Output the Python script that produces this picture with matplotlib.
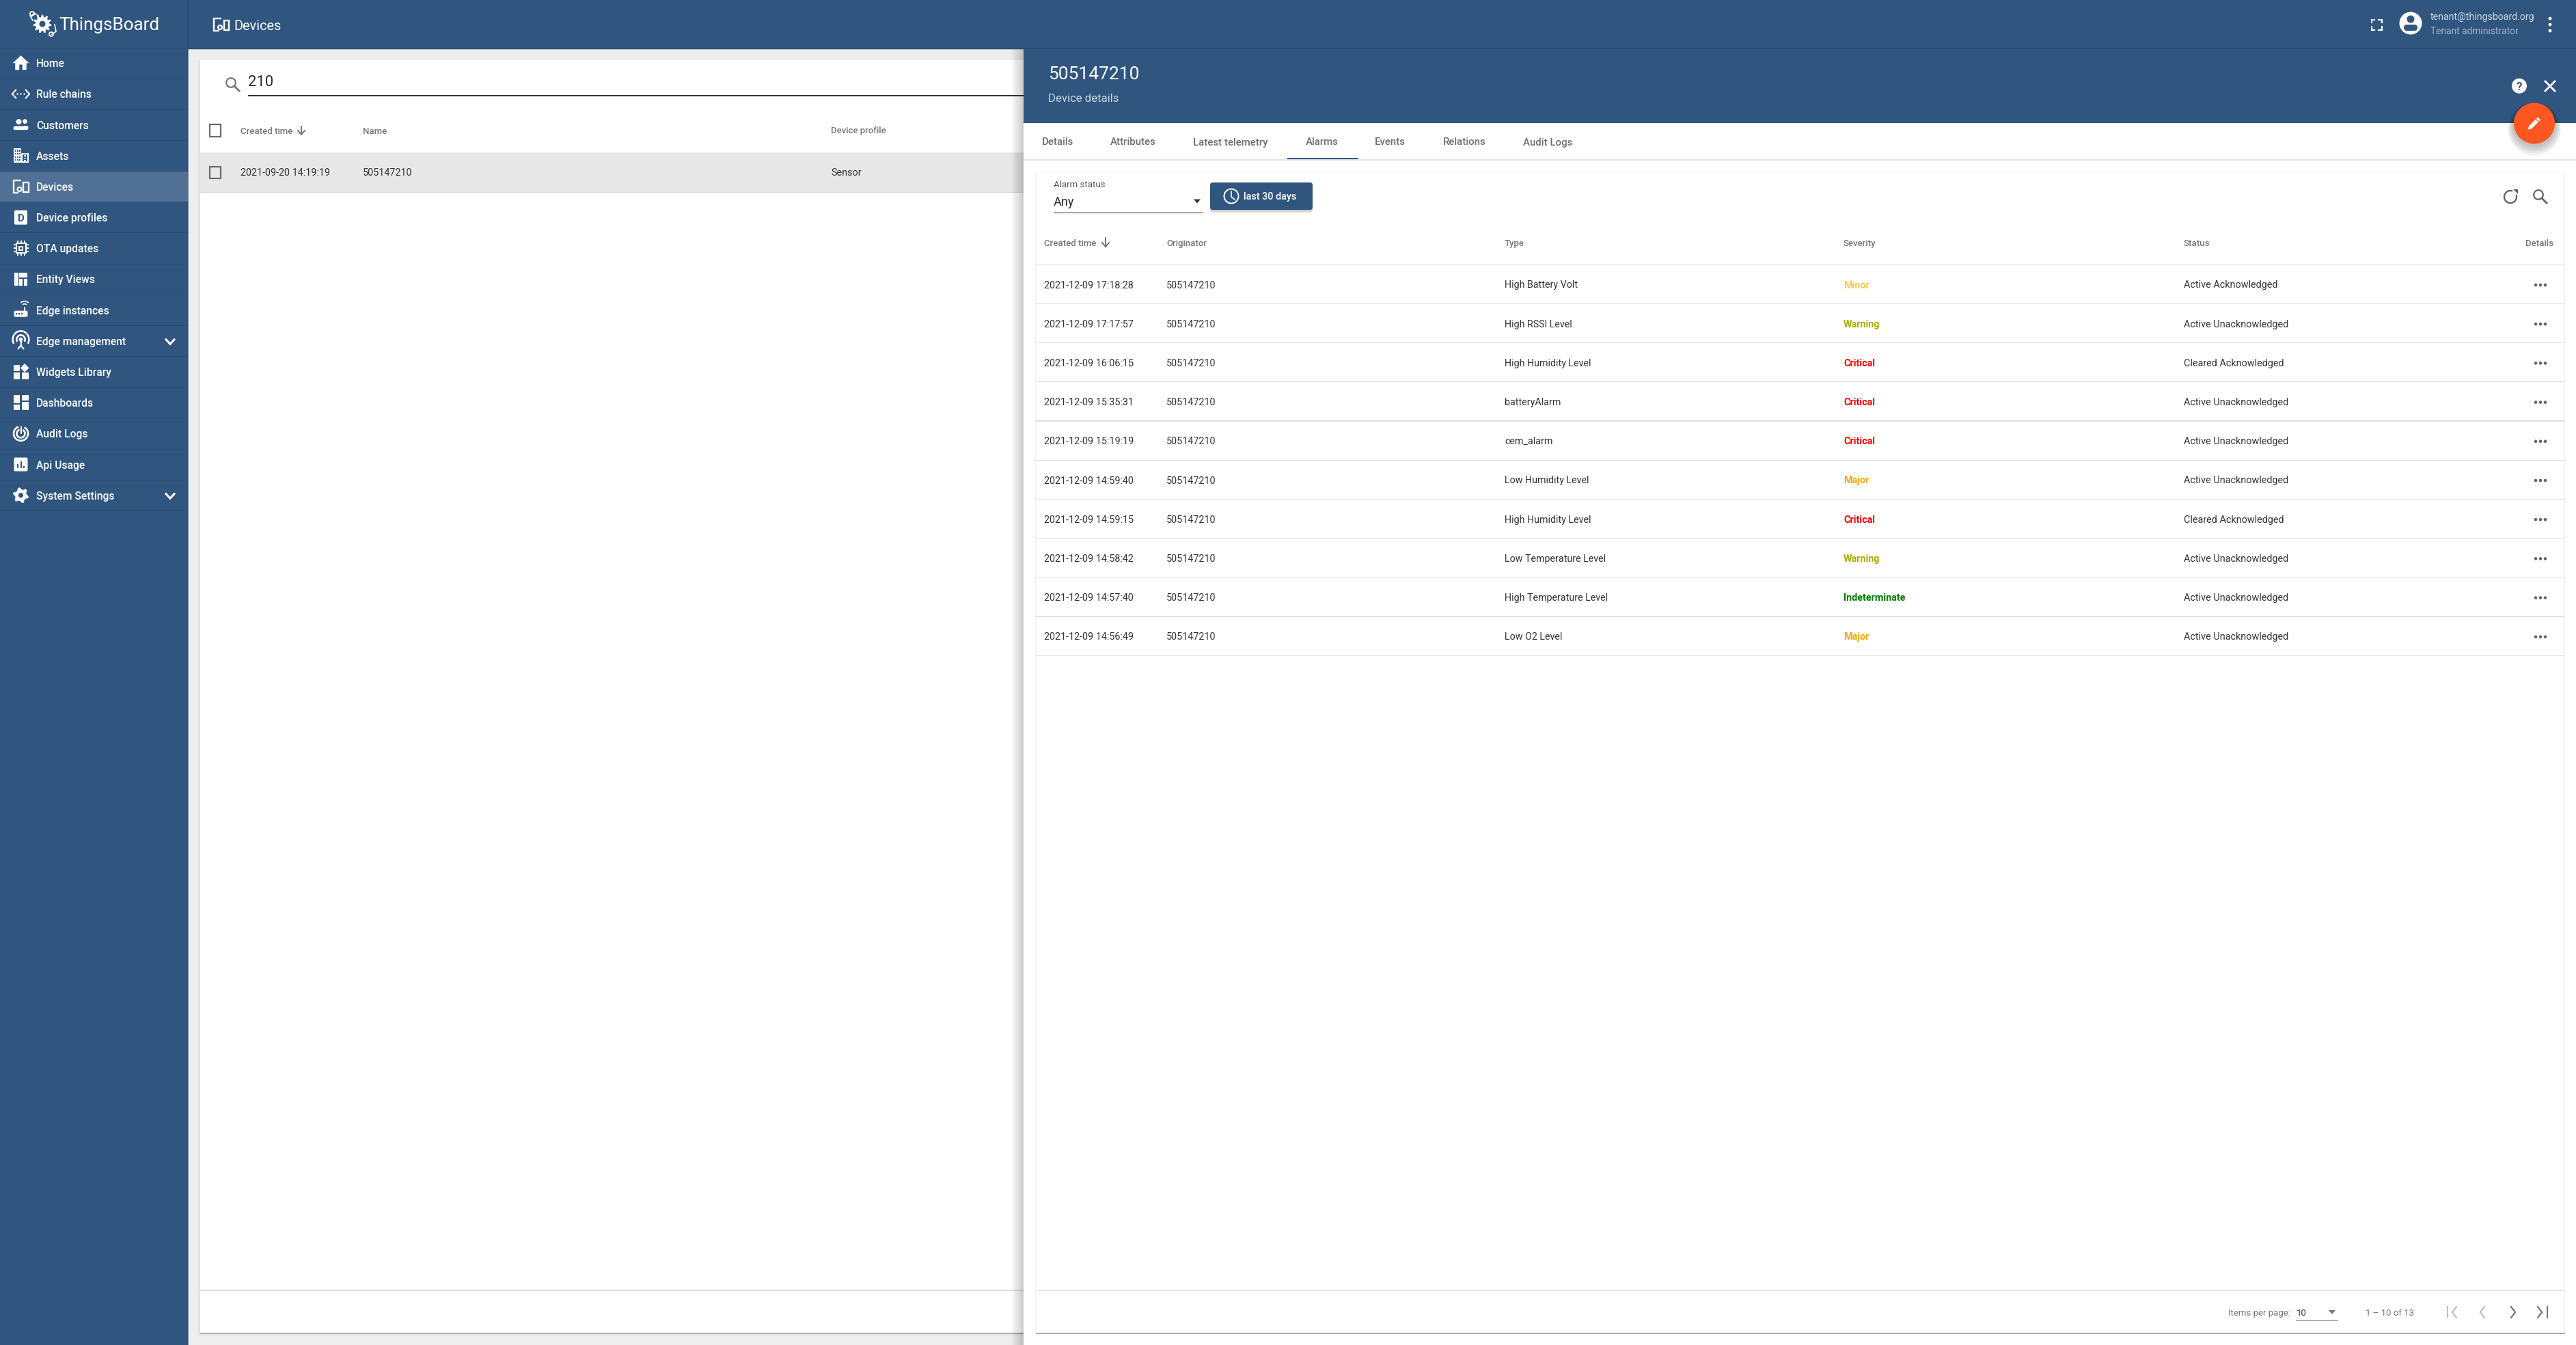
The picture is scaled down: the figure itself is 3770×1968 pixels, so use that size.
"""ThingsBoard device details screen, redrawn with matplotlib."""

import numpy as np
import matplotlib
matplotlib.use("Agg")
import matplotlib.pyplot as plt
from matplotlib.patches import Rectangle, Circle, Polygon, FancyBboxPatch, Arc

plt.rcParams['font.family'] = ['Roboto', 'DejaVu Sans']

menu_items = ["Home", "Rule chains", "Customers", "Assets", "Devices", "Device profiles",
              "OTA updates", "Entity Views", "Edge instances", "Edge management",
              "Widgets Library", "Dashboards", "Audit Logs", "Api Usage", "System Settings"]
menu_expandable = ["Edge management", "System Settings"]
menu_selected = "Devices"

tab_labels = ["Details", "Attributes", "Latest telemetry", "Alarms", "Events", "Relations", "Audit Logs"]
tab_x = [1525, 1625, 1746, 1911, 2012, 2112, 2229]

alarm_times = ["2021-12-09 17:18:28", "2021-12-09 17:17:57", "2021-12-09 16:06:15",
               "2021-12-09 15:35:31", "2021-12-09 15:19:19", "2021-12-09 14:59:40",
               "2021-12-09 14:59:15", "2021-12-09 14:58:42", "2021-12-09 14:57:40",
               "2021-12-09 14:56:49"]
alarm_types = ["High Battery Volt", "High RSSI Level", "High Humidity Level", "batteryAlarm",
               "cem_alarm", "Low Humidity Level", "High Humidity Level", "Low Temperature Level",
               "High Temperature Level", "Low O2 Level"]
alarm_severity = ["Minor", "Warning", "Critical", "Critical", "Critical", "Major", "Critical",
                  "Warning", "Indeterminate", "Major"]
alarm_status = ["Active Acknowledged", "Active Unacknowledged", "Cleared Acknowledged",
                "Active Unacknowledged", "Active Unacknowledged", "Active Unacknowledged",
                "Cleared Acknowledged", "Active Unacknowledged", "Active Unacknowledged",
                "Active Unacknowledged"]
originator = "505147210"
severity_colors = {"Minor": "#ffca3d", "Warning": "#abab00", "Critical": "#ff0000",
                   "Major": "#ffa500", "Indeterminate": "#008000"}

BLUE = "#305680"
DARK = "#2a4c72"
LINE = "#e0e0e0"
GREY = "#757575"
TEXT = "#333333"

fig = plt.figure(figsize=(37.7, 19.68), dpi=100)
ax = fig.add_axes([0, 0, 1, 1])
ax.set_xlim(0, 3770)
ax.set_ylim(1968, 0)
ax.axis("off")


def rect(x0, y0, x1, y1, color, alpha=1.0, z=1):
    ax.add_patch(Rectangle((x0, y0), x1 - x0, y1 - y0, fc=color, ec="none", alpha=alpha, zorder=z))


def txt(x, y, s, px, color=TEXT, weight=400, ha="left", alpha=1.0, z=10):
    ax.text(x, y, s, fontsize=px * 0.72, color=color, fontweight=weight, ha=ha,
            va="center_baseline", alpha=alpha, zorder=z)


def poly(cx, cy, pts, color, s=1.1, z=9):
    pts = (np.array(pts, dtype=float) - 12) * s + [cx, cy]
    ax.add_patch(Polygon(pts, closed=True, fc=color, ec="none", zorder=z))


def stroke(cx, cy, pts, color, lw=2.2, s=1.1, z=9):
    pts = (np.array(pts, dtype=float) - 12) * s + [cx, cy]
    ax.plot(pts[:, 0], pts[:, 1], color=color, lw=lw * 0.72, solid_capstyle="butt",
            solid_joinstyle="miter", zorder=z)


def circ(cx, cy, r, color, z=9, **kw):
    ax.add_patch(Circle((cx, cy), r, fc=color, ec="none", zorder=z, **kw))


def ring(cx, cy, r, color, lw=2.2, z=9):
    ax.add_patch(Circle((cx, cy), r, fc="none", ec=color, lw=lw * 0.72, zorder=z))


def squares(cx, cy, boxes, color, s=1.1, z=9):
    for x0, y0, x1, y1 in boxes:
        rect(cx + (x0 - 12) * s, cy + (y0 - 12) * s, cx + (x1 - 12) * s, cy + (y1 - 12) * s, color, z=z)


def gear(cx, cy, r_out, r_in, hole, color, back, teeth=8, z=9):
    ang = np.linspace(0, 2 * np.pi, teeth * 4, endpoint=False) + np.pi / teeth / 4
    rad = np.where(np.arange(teeth * 4) % 4 < 2, r_out, r_in)
    ax.add_patch(Polygon(np.c_[cx + rad * np.cos(ang), cy + rad * np.sin(ang)], fc=color, ec="none", zorder=z))
    circ(cx, cy, hole, back, z=z + 0.1)


def devices_icon(cx, cy, color, back):
    stroke(cx, cy, [(12, 4), (2, 4), (2, 20), (9, 20)], color, lw=2.4)
    ax.add_patch(Rectangle((cx + 3.5, cy - 6), 7.5, 14, fc="none", ec=color, lw=1.7, zorder=9))
    ring(cx - 2, cy + 4, 3, color, lw=2.2)


def home_icon(cx, cy, c, b):
    poly(cx, cy, [(10, 21), (10, 14), (14, 14), (14, 21), (19.5, 21), (19.5, 12), (23, 12), (12, 2), (1, 12), (4.5, 12), (4.5, 21)], c)


def rule_icon(cx, cy, c, b):
    stroke(cx, cy, [(6, 6), (0.5, 12), (6, 18)], c, lw=2)
    stroke(cx, cy, [(18, 6), (23.5, 12), (18, 18)], c, lw=2)
    for dx in (-5, 0, 5):
        circ(cx + dx, cy, 1.2, c)


def customers_icon(cx, cy, c, b):
    circ(cx - 3, cy - 4.5, 4.0, c)
    circ(cx + 6, cy - 5, 3.4, c)
    ax.add_patch(FancyBboxPatch((cx - 11, cy + 2), 15, 5.5, boxstyle="round,pad=0,rounding_size=2.5", fc=c, ec="none", zorder=9))
    ax.add_patch(FancyBboxPatch((cx + 2, cy + 1.5), 9, 6, boxstyle="round,pad=0,rounding_size=2.5", fc=c, ec="none", zorder=9))


def assets_icon(cx, cy, c, b):
    rect(cx - 11, cy - 10.5, cx + 0.5, cy + 10, c, z=9)
    rect(cx + 0.5, cy - 4, cx + 11, cy + 10, c, z=9)
    rect(cx + 2.5, cy - 2, cx + 9, cy + 8, b, z=9.1)
    for i in range(3):
        for j in range(4):
            rect(cx - 9 + i * 3.3, cy - 8.5 + j * 4.6, cx - 7.2 + i * 3.3, cy - 6.2 + j * 4.6, b, z=9.2)
    for j in range(3):
        rect(cx + 4, cy - 0.5 + j * 3.3, cx + 7, cy + 1.3 + j * 3.3, c, z=9.2)


def profiles_icon(cx, cy, c, b):
    ax.add_patch(FancyBboxPatch((cx - 9.5, cy - 10.5), 19, 21, boxstyle="round,pad=0,rounding_size=2", fc=c, ec="none", zorder=9))
    txt(cx, cy + 0.5, "D", 15, color=b, weight=700, ha="center")


def ota_icon(cx, cy, c, b):
    rect(cx - 8, cy - 8, cx + 8, cy + 8, c, z=9)
    rect(cx - 6, cy - 6, cx + 6, cy + 6, b, z=9.1)
    rect(cx - 3.5, cy - 3.5, cx + 3.5, cy + 3.5, c, z=9.2)
    rect(cx - 1.5, cy - 1.5, cx + 1.5, cy + 1.5, b, z=9.3)
    for d in (-5, 0, 5):
        rect(cx + d - 1, cy - 11, cx + d + 1, cy + 11, c, z=8.9)
        rect(cx - 11, cy + d - 1, cx + 11, cy + d + 1, c, z=8.9)


def views_icon(cx, cy, c, b):
    squares(cx, cy, [(3, 3, 8.5, 21), (10, 3, 21, 10), (10, 12, 14.5, 21), (16, 12, 21, 21)], c)


def edge_icon(cx, cy, c, b):
    ax.add_patch(FancyBboxPatch((cx - 10, cy + 1), 20, 9, boxstyle="round,pad=0,rounding_size=2", fc=c, ec="none", zorder=9))
    rect(cx + 4.5, cy - 5, cx + 6.5, cy + 2, c, z=9)
    for dx in (-6.5, -2.5, 1.5):
        circ(cx + dx, cy + 5.5, 1.2, b, z=9.2)
    for r in (4, 8):
        ax.add_patch(Arc((cx + 5.5, cy - 5), 2 * r, 2 * r, angle=0, theta1=225, theta2=315, ec=c, lw=1.2, zorder=9))


def manage_icon(cx, cy, c, b):
    for r in (6.5, 12.5):
        ax.add_patch(Arc((cx, cy - 2), 2 * r * 0.95, 2 * r, theta1=150, theta2=390, ec=c, lw=1.8, zorder=9))
    circ(cx, cy - 2, 3, c)
    stroke(cx, cy, [(12, 10), (12, 18)], c, lw=2.2)
    stroke(cx, cy, [(8, 23), (12, 18), (16, 23)], c, lw=2.2)


def widgets_icon(cx, cy, c, b):
    squares(cx, cy, [(2, 3, 11, 11), (2, 13, 11, 22), (13, 13, 22, 22)], c)
    poly(cx, cy, [(17, 1), (23, 7), (17, 12.5), (11.5, 7)], c)


def dash_icon(cx, cy, c, b):
    squares(cx, cy, [(2, 2, 11, 13), (2, 15, 11, 22), (13, 2, 22, 9), (13, 11, 22, 22)], c)


def audit_icon(cx, cy, c, b):
    ax.add_patch(Arc((cx, cy), 21, 21, theta1=-60, theta2=250, ec=c, lw=1.9, zorder=9))
    ax.add_patch(Arc((cx, cy), 12, 12, theta1=-60, theta2=250, ec=c, lw=1.9, zorder=9))
    stroke(cx, cy, [(12, 3), (12, 13)], c, lw=2.2)


def api_icon(cx, cy, c, b):
    ax.add_patch(FancyBboxPatch((cx - 10, cy - 10), 20, 20, boxstyle="round,pad=0,rounding_size=2", fc=c, ec="none", zorder=9))
    rect(cx - 5.5, cy - 1, cx - 3.5, cy + 5.5, b, z=9.2)
    rect(cx - 1, cy - 5, cx + 1, cy + 5.5, b, z=9.2)
    rect(cx + 3.5, cy + 2, cx + 5.5, cy + 5.5, b, z=9.2)


def settings_icon(cx, cy, c, b):
    gear(cx, cy, 11.5, 8.5, 3.6, c, b, teeth=6)


menu_icons = [home_icon, rule_icon, customers_icon, assets_icon, devices_icon, profiles_icon,
              ota_icon, views_icon, edge_icon, manage_icon, widgets_icon, dash_icon, audit_icon,
              api_icon, settings_icon]


def shadow(x0, y0, x1, y1, n=6, step=2.0, alpha=0.018, z=1.5):
    for i in range(n):
        d = step * (i + 1)
        rect(x0 - d, y0, x1 + d, y1 + d, "#000000", alpha=alpha, z=z)


def left_chevron(cx, cy, c, sign=1, h=8, w=6, lw=2.2):
    ax.plot([cx + sign * w / 2, cx - sign * w / 2, cx + sign * w / 2], [cy - h, cy, cy + h],
            color=c, lw=lw * 0.72, solid_joinstyle="miter", zorder=9)


def magnifier(cx, cy, c, r=6.8, lw=2.2):
    ring(cx - 2, cy - 2, r, c, lw=lw)
    ax.plot([cx + 3, cx + 10], [cy + 3, cy + 10], color=c, lw=(lw + 0.6) * 0.72, zorder=9)


# page backgrounds
rect(0, 0, 3770, 1968, "#eeeeee", z=0)
shadow(293, 88, 1600, 1950, n=3, step=1.5, z=0.5)
rect(293, 88, 1600, 1950, "#ffffff", z=1)

# left table behind the drawer
rect(275, 70, 3770, 73, "#cccccc", z=1.2)
rect(293, 223, 1500, 281, "#e8e8e8", z=2)
rect(293, 280.5, 1500, 282, "#d8d8d8", z=2.1)
rect(293, 1887, 1500, 1889, LINE, z=2)
rect(293, 1950, 1500, 1952, "#b0b0b0", z=2)
for y0, y1 in ((182, 199.5), (244, 260.5)):
    ax.add_patch(Rectangle((307, y0), 15.5, y1 - y0, fc="none", ec="#6b6b6b", lw=1.6, zorder=3))
txt(352, 190.5, "Created time", 13.2, GREY, 500)
ax.plot([441, 441], [185, 196], color=GREY, lw=1.4, zorder=3)
ax.plot([436, 441, 446], [191, 197, 191], color=GREY, lw=1.4, zorder=3)
txt(530.5, 190.5, "Name", 13.2, GREY, 500)
txt(1216, 190.5, "Device profile", 13.2, GREY, 500)
txt(352, 251.5, "2021-09-20 14:19:19", 14.4)
txt(530.5, 251.5, originator, 14.4)
txt(1216, 251.5, "Sensor", 14.4)
magnifier(340, 123, GREY)
txt(363, 118, "210", 22, "#2b2b2b")
rect(363, 139, 1500, 140.5, "#333333", z=2)

# top bar
rect(0, 0, 3770, 70, BLUE, z=4)
rect(0, 70, 3770, 71.5, DARK, z=4)

# sidebar
rect(0, 0, 275, 1968, BLUE, z=5)
rect(274, 0, 275.5, 1968, DARK, alpha=0.6, z=5.1)
for i, name in enumerate(menu_items):
    yc = 92.3 + i * 45.17
    if name == menu_selected:
        rect(0, yc - 22.5, 275, yc + 22.5, "#507195", z=5.2)
    rect(0, yc + 22.2, 275, yc + 23.2, DARK, z=5.3)
    back = "#507195" if name == menu_selected else BLUE
    menu_icons[i](30.5, yc, "#ffffff", back)
    txt(53, yc, name, 15.6, "#ffffff", 500)
    if name in menu_expandable:
        ax.plot([243, 249, 255], [yc - 2, yc + 4.5, yc - 2], color="#ffffff", lw=2.2, solid_joinstyle="miter", zorder=9)
rect(0, 69.5, 275, 70.5, DARK, z=5.3)
rect(274.5, 0, 275.5, 70, DARK, z=5.3)

# logo
gear(62, 35, 13.5, 10, 4.5, "#ffffff", BLUE, teeth=11)
ax.plot([46, 50, 56], [24, 19, 23], color="#ffffff", lw=1.2, zorder=9)
ax.plot([80, 82, 76], [36, 46, 50], color="#ffffff", lw=1.2, zorder=9)
ax.plot([44, 48], [23, 30], color="#ffffff", lw=1.2, zorder=9)
ring(47, 20, 3, "#ffffff", lw=1.8)
ring(75, 50, 3, "#ffffff", lw=1.8)
txt(86.5, 34.5, "ThingsBoard", 26, "#ffffff", z=11)

# page title
devices_icon(324, 36, "#ffffff", BLUE)
txt(342, 36, "Devices", 20, "#ffffff", z=11)

# top bar right
for sx, sy in ((-1, -1), (1, -1), (-1, 1), (1, 1)):
    ax.plot([3478 + sx * 7.5, 3478 + sx * 7.5, 3478 + sx * 3],
            [36 + sy * 3, 36 + sy * 7.5, 36 + sy * 7.5], color="#ffffff", lw=1.5, solid_joinstyle="miter", zorder=9)
circ(3528, 34, 16.5, "#ffffff")
circ(3528, 28, 5.5, BLUE, z=9.2)
ax.add_patch(FancyBboxPatch((3518, 36), 20, 9, boxstyle="round,pad=0,rounding_size=4.5", fc=BLUE, ec="none", zorder=9.2))
txt(3557, 24, "tenant@thingsboard.org", 14.1, "#ffffff", alpha=0.75)
txt(3557, 45, "Tenant administrator", 13.8, "#ffffff", alpha=0.55)
for dy in (-9, 0, 9):
    circ(3732, 36 + dy, 2.4, "#ffffff")

# drawer
shadow(1498, 71.5, 3790, 1990, n=10, step=1.8, alpha=0.018, z=6)
rect(1498, 71.5, 3770, 1968, "#ffffff", z=6.5)
rect(1498, 71.5, 3770, 180, BLUE, z=6.6)
txt(1534, 107, originator, 26.4, "#ffffff")
txt(1534, 143, "Device details", 16.8, "#ffffff", alpha=0.75)

circ(3687, 125.7, 11, "#ffffff")
txt(3687, 126, "?", 17, BLUE, 700, ha="center")
ax.plot([3725, 3739], [119, 133], color="#ffffff", lw=2, zorder=9)
ax.plot([3725, 3739], [133, 119], color="#ffffff", lw=2, zorder=9)

for i in range(7):
    circ(3709, 183 + i, 32 + i * 1.2, "#000000", z=8.5, alpha=0.035)
circ(3709, 180.5, 30, "#ff5722", z=9)
poly(3709, 180.5, [(17, 3), (21, 7), (8, 20), (3, 21), (4, 16)], "#ffffff", s=1.0, z=9.5)
poly(3709, 180.5, [(14.8, 5.2), (18.8, 9.2), (17.8, 10.2), (13.8, 6.2)], "#ff5722", s=1.0, z=9.6)

# tabs
for x, label in zip(tab_x, tab_labels):
    txt(x, 207, label, 15, "#6e6e6e", 500)
rect(1884, 231, 1987, 233, BLUE, z=8)
rect(1498, 233, 3770, 234.5, "#e4e4e4", z=7)

# alarm card
rect(1516, 252, 3753, 1950, "#ffffff", z=6.7)
rect(3753, 252, 3754, 1950, "#eeeeee", z=6.7)
rect(1515, 252, 1516, 1950, "#f0f0f0", z=6.7)
rect(1516, 251, 3754, 252, "#f4f4f4", z=6.7)
rect(1516, 1950, 3754, 1952, "#b0b0b0", z=6.7)
rect(1516, 1887.5, 3753, 1889, LINE, z=7)

txt(1542, 269, "Alarm status", 13.2, "#555555")
txt(1542, 294, "Any", 18, "#2b2b2b")
rect(1542, 310.5, 1761, 312, "#333333", z=7)
ax.add_patch(Polygon([(1747, 291.5), (1757, 291.5), (1752, 297.5)], fc="#333333", ec="none", zorder=8))

for i in range(4):
    ax.add_patch(FancyBboxPatch((1771, 269 + i), 150, 40, boxstyle="round,pad=0,rounding_size=4", fc="#000000", ec="none", alpha=0.05, zorder=7))
ax.add_patch(FancyBboxPatch((1771, 267), 150, 40, boxstyle="round,pad=0,rounding_size=4", fc=BLUE, ec="none", zorder=7.5))
ring(1802, 287, 10.5, "#ffffff", lw=2)
ax.plot([1802, 1802, 1807], [280, 288, 292], color="#ffffff", lw=1.2, zorder=9)
txt(1820.5, 286.5, "last 30 days", 14.4, "#ffffff", 500)

ax.add_patch(Arc((3674, 288), 18, 18, theta1=-20, theta2=290, ec="#666666", lw=1.7, zorder=9))
ax.add_patch(Polygon([(3678, 277), (3685, 277), (3685, 284)], fc="#666666", ec="none", zorder=9.5))
magnifier(3717, 287, "#666666")

# alarm table
col_time, col_orig, col_type, col_sev, col_stat = 1528.5, 1707, 2202, 2698, 3195.5
header_y = 355
txt(col_time, header_y, "Created time", 13.2, GREY, 500)
ax.plot([1618, 1618], [348, 361], color=GREY, lw=1.4, zorder=9)
ax.plot([1613, 1618, 1623], [355, 361, 355], color=GREY, lw=1.4, zorder=9)
txt(col_orig, header_y, "Originator", 13.2, GREY, 500)
txt(col_type, header_y, "Type", 13.2, GREY, 500)
txt(col_sev, header_y, "Severity", 13.2, GREY, 500)
txt(col_stat, header_y, "Status", 13.2, GREY, 500)
txt(3737, header_y, "Details", 13.2, GREY, 500, ha="right")
rect(1516, 386.5, 3753, 388, LINE, z=7)

row_h = 57.2
for i, when in enumerate(alarm_times):
    yc = 416 + i * row_h
    txt(col_time, yc, when, 14.4)
    txt(col_orig, yc, originator, 14.4)
    txt(col_type, yc, alarm_types[i], 14.2)
    txt(col_sev, yc, alarm_severity[i], 14.4, severity_colors[alarm_severity[i]], 700)
    txt(col_stat, yc, alarm_status[i], 14.4)
    for dx in (-7, 0, 7):
        circ(3718 + dx, yc + 1, 2.3, "#666666")
    rect(1516, yc + 27.7, 3753, yc + 29, LINE, z=7)

# pager
pager_y = 1920
txt(3261, pager_y, "Items per page:", 13.2, GREY)
txt(3361, pager_y, "10", 13.2, "#333333")
ax.add_patch(Polygon([(3408, 1917), (3418, 1917), (3413, 1923)], fc=GREY, ec="none", zorder=9))
rect(3360, 1931.5, 3422, 1932.8, "#8a8a8a", z=9)
txt(3462, pager_y, "1 – 10 of 13", 13.2, GREY)
left_chevron(3592, pager_y, "#bdbdbd", 1)
rect(3581, pager_y - 9, 3583, pager_y + 9, "#bdbdbd", z=9)
left_chevron(3633, pager_y, "#bdbdbd", 1)
left_chevron(3678, pager_y, "#757575", -1)
left_chevron(3717, pager_y, "#757575", -1)
rect(3727, pager_y - 9, 3729, pager_y + 9, "#757575", z=9)

fig.savefig("out.png", dpi=100)
plt.close(fig)
